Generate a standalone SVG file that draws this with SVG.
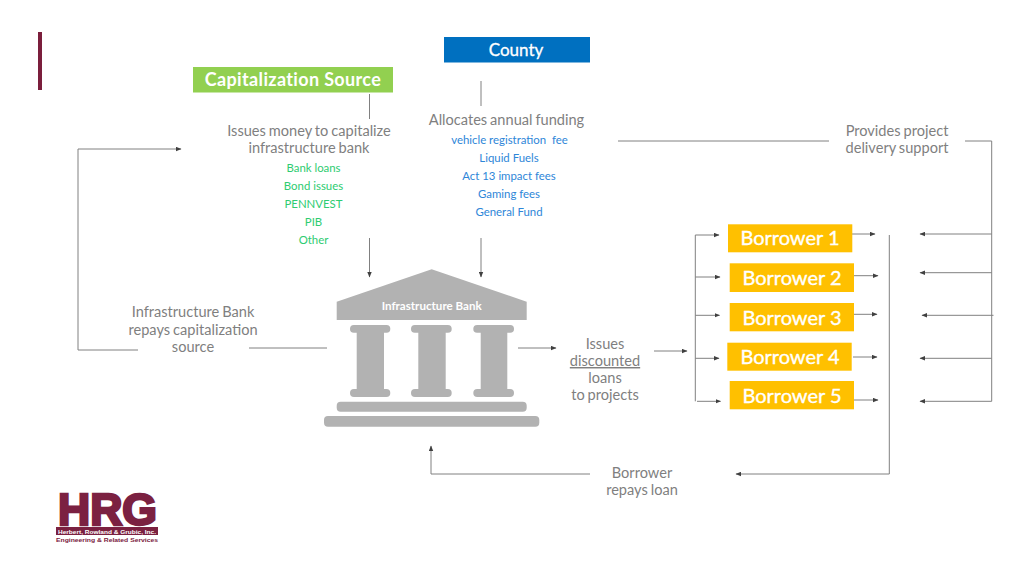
<svg xmlns="http://www.w3.org/2000/svg" width="1030" height="579" viewBox="0 0 1030 579">
<style>
text{font-family:Lato,"Open Sans","Liberation Sans",sans-serif;text-anchor:middle}
.t{font-size:14.6px;fill:#7f7f7f;word-spacing:-.8px}
.g{font-size:11.4px;fill:#2ecc71}
.b{font-size:11.4px;fill:#2e86d8}
.bw{font-size:20px;fill:#fff;stroke:#fff;stroke-width:.35px}
.y{fill:#ffc000}
.c{fill:none;stroke:#808080;stroke-width:1}
.a{marker-end:url(#ah)}
.bd{fill:#b2b2b2}
</style>
<defs>
<marker id="ah" markerUnits="userSpaceOnUse" markerWidth="6" markerHeight="5" refX="5" refY="2.500" orient="auto"><path d="M0,0.300L5.500,2.500L0,4.700z" fill="#404040"/></marker>
</defs>
<rect id="accent" x="38" y="32" width="4" height="58" fill="#7b1e3c"/>
<g id="connectors">
<path class="c" d="M369.500 94V119M481 81V106M618 141H829M965 141H991.700V401.300"/>
<path class="c a" d="M369.500 238V277"/>
<path class="c a" d="M481 238V277"/>
<path class="c a" d="M138 350H78V149H181"/>
<path class="c" d="M249 348H327"/>
<path class="c a" d="M518 348H556"/>
<path class="c a" d="M654 351H687"/>
<path class="c" d="M695.300 235V401.300"/>
<path class="c a" d="M695.300 235H719"/>
<path class="c a" d="M695.300 277H720"/>
<path class="c a" d="M695.300 315.300H719.500"/>
<path class="c a" d="M695.300 358.300H719"/>
<path class="c a" d="M697 401.300H720.500"/>
<path class="c a" d="M852 234H875"/>
<path class="c a" d="M854 275.700H878"/>
<path class="c a" d="M853 314.300H877"/>
<path class="c a" d="M853 357H877"/>
<path class="c a" d="M854 400H878"/>
<path class="c a" d="M889.300 235V474H736"/>
<path class="c a" d="M991.700 234H920"/>
<path class="c a" d="M991.700 272.700H920"/>
<path class="c a" d="M993.500 315.300H922"/>
<path class="c a" d="M991.700 358.300H920"/>
<path class="c a" d="M991.700 401.300H920"/>
<path class="c a" d="M590 474H431V446"/>
</g>
<g id="county"><rect x="444" y="37" width="146" height="25.500" fill="#0070c0"/><text style="font-size:17px;fill:#fff;stroke:#fff;stroke-width:.3px" x="516" y="56">County</text></g>
<g id="capitalization-source"><rect x="193" y="67" width="200" height="25.500" fill="#92d050"/><text style="font-size:18px;font-weight:700;fill:#fff;letter-spacing:.35px" x="293" y="86">Capitalization Source</text></g>
<g id="issues-money"><text class="t" x="309" y="136">Issues money to capitalize</text><text class="t" x="309" y="153">infrastructure bank</text>
<text class="g" x="313.500" y="172">Bank loans</text><text class="g" x="313.500" y="190">Bond issues</text><text class="g" x="313.500" y="207.500">PENNVEST</text><text class="g" x="313.500" y="226">PIB</text><text class="g" x="313.500" y="244">Other</text></g>
<g id="allocates"><text class="t" x="506.500" y="125">Allocates annual funding</text>
<text class="b" x="509.500" y="144">vehicle registration&#160; fee</text><text class="b" x="509" y="162">Liquid Fuels</text><text class="b" x="509" y="180">Act 13 impact fees</text><text class="b" x="509" y="198">Gaming fees</text><text class="b" x="509" y="216">General Fund</text></g>
<g id="support"><text class="t" x="897" y="136">Provides project</text><text class="t" x="897" y="153">delivery support</text></g>
<g id="bank">
<path class="bd" d="M431.700 269.300L526.700 301.700V320H336.700V301.700Z"/>
<text x="431.700" y="310" style="font-size:11.600px;font-weight:700;fill:#fff">Infrastructure Bank</text>
<g id="col1"><rect class="bd" x="350" y="325" width="40.300" height="7.700" rx="3.800"/><rect class="bd" x="356.700" y="328" width="27.300" height="65"/><rect class="bd" x="350" y="389" width="40.300" height="8" rx="4"/></g>
<g id="col2"><rect class="bd" x="411" y="325" width="40.700" height="7.700" rx="3.800"/><rect class="bd" x="418.300" y="328" width="27.400" height="65"/><rect class="bd" x="411" y="389" width="40.700" height="8" rx="4"/></g>
<g id="col3"><rect class="bd" x="473.300" y="325" width="40.700" height="7.700" rx="3.800"/><rect class="bd" x="480.700" y="328" width="26.600" height="65"/><rect class="bd" x="473.300" y="389" width="40.700" height="8" rx="4"/></g>
<rect class="bd" x="336.700" y="401.700" width="190" height="10" rx="4"/>
<rect class="bd" x="324" y="416" width="215.300" height="10.700" rx="4"/>
</g>
<g id="repays-cap"><text class="t" x="193" y="317">Infrastructure Bank</text><text class="t" x="193" y="335">repays capitalization</text><text class="t" x="193" y="352">source</text></g>
<g id="issues-discounted"><text class="t" x="605" y="349">Issues</text><text class="t" x="605" y="366" text-decoration="underline">discounted</text><text class="t" x="605" y="383">loans</text><text class="t" x="605" y="400">to projects</text></g>
<g id="borrower-1"><rect class="y" x="728" y="224.300" width="124.300" height="28"/><text class="bw" x="790" y="245">Borrower 1</text></g>
<g id="borrower-2"><rect class="y" x="729.700" y="263.300" width="124.300" height="28.700"/><text class="bw" x="792" y="285">Borrower 2</text></g>
<g id="borrower-3"><rect class="y" x="729.700" y="303" width="124.300" height="28.300"/><text class="bw" x="792" y="325">Borrower 3</text></g>
<g id="borrower-4"><rect class="y" x="727.300" y="342.700" width="124.400" height="28"/><text class="bw" x="790" y="364">Borrower 4</text></g>
<g id="borrower-5"><rect class="y" x="729.700" y="381" width="124.300" height="28.300"/><text class="bw" x="792" y="403">Borrower 5</text></g>
<g id="borrower-repays"><text class="t" x="642" y="478">Borrower</text><text class="t" x="642" y="495">repays loan</text></g>
<g id="logo">
<text x="107.500" y="525" textLength="99" lengthAdjust="spacingAndGlyphs" style="font-family:'Liberation Sans',sans-serif;font-weight:700;font-size:44px;fill:#7b2141;stroke:#7b2141;stroke-width:2.500px">HRG</text>
<rect x="56" y="527" width="102" height="8" fill="#7b2141"/>
<text x="107" y="533.500" textLength="98" lengthAdjust="spacingAndGlyphs" style="font-family:'Liberation Sans',sans-serif;font-weight:700;font-size:6px;fill:#fff">Herbert, Rowland &amp; Grubic, Inc.</text>
<text x="107" y="541.500" textLength="102" lengthAdjust="spacingAndGlyphs" style="font-family:'Liberation Sans',sans-serif;font-weight:700;font-size:6px;fill:#7b2141">Engineering &amp; Related Services</text>
</g>
</svg>
